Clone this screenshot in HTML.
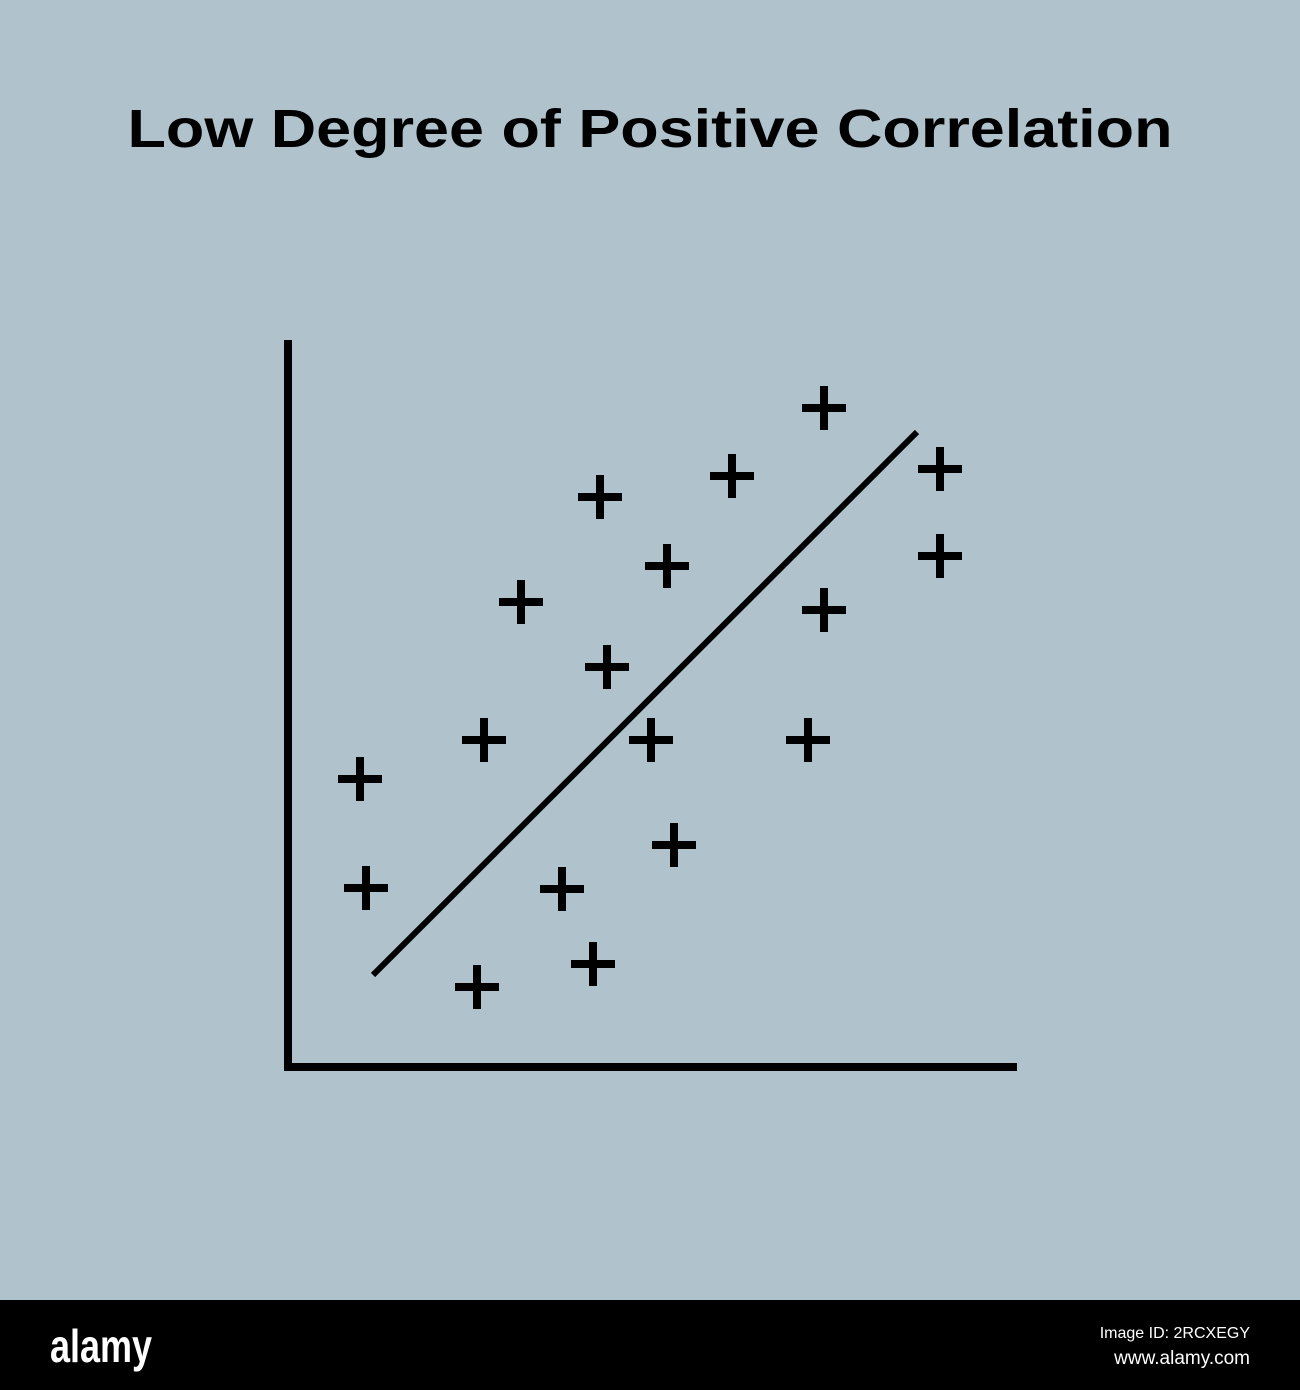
<!DOCTYPE html>
<html><head><meta charset="utf-8"><style>
html,body{margin:0;padding:0;}
body{width:1300px;height:1390px;background:#b0c3cc;overflow:hidden;}
</style></head><body>
<svg width="1300" height="1390" xmlns="http://www.w3.org/2000/svg" style="display:block">
<rect width="1300" height="1390" fill="#b0c3cc"/>
<text x="650" y="147" text-anchor="middle" font-family="Liberation Sans, sans-serif" font-weight="bold" font-size="54" textLength="1045" lengthAdjust="spacingAndGlyphs" fill="#000">Low Degree of Positive Correlation</text>
<g stroke="#000" stroke-width="8" fill="none">
<line x1="288" y1="340" x2="288" y2="1071"/>
<line x1="284" y1="1067" x2="1017" y2="1067"/>
</g>
<line x1="373" y1="975" x2="917" y2="432" stroke="#000" stroke-width="6"/>
<g stroke="#000" stroke-width="8">
<path d="M338 779h44M360 757v44"/>
<path d="M344 888h44M366 866v44"/>
<path d="M462 740h44M484 718v44"/>
<path d="M499 602h44M521 580v44"/>
<path d="M578 497h44M600 475v44"/>
<path d="M585 667h44M607 645v44"/>
<path d="M645 566h44M667 544v44"/>
<path d="M710 476h44M732 454v44"/>
<path d="M802 408h44M824 386v44"/>
<path d="M918 469h44M940 447v44"/>
<path d="M918 556h44M940 534v44"/>
<path d="M802 610h44M824 588v44"/>
<path d="M629 740h44M651 718v44"/>
<path d="M786 740h44M808 718v44"/>
<path d="M652 845h44M674 823v44"/>
<path d="M540 889h44M562 867v44"/>
<path d="M571 964h44M593 942v44"/>
<path d="M455 987h44M477 965v44"/>
</g>
<rect x="0" y="1300" width="1300" height="90" fill="#000"/>
<text x="50" y="1362" font-family="Liberation Sans, sans-serif" font-weight="bold" font-size="46" textLength="102" lengthAdjust="spacingAndGlyphs" fill="#fff">alamy</text>
<text x="1250" y="1338" text-anchor="end" font-family="Liberation Sans, sans-serif" font-size="16" fill="#fff">Image ID: 2RCXEGY</text>
<text x="1250" y="1364" text-anchor="end" font-family="Liberation Sans, sans-serif" font-size="19" fill="#fff">www.alamy.com</text>
</svg>
</body></html>
